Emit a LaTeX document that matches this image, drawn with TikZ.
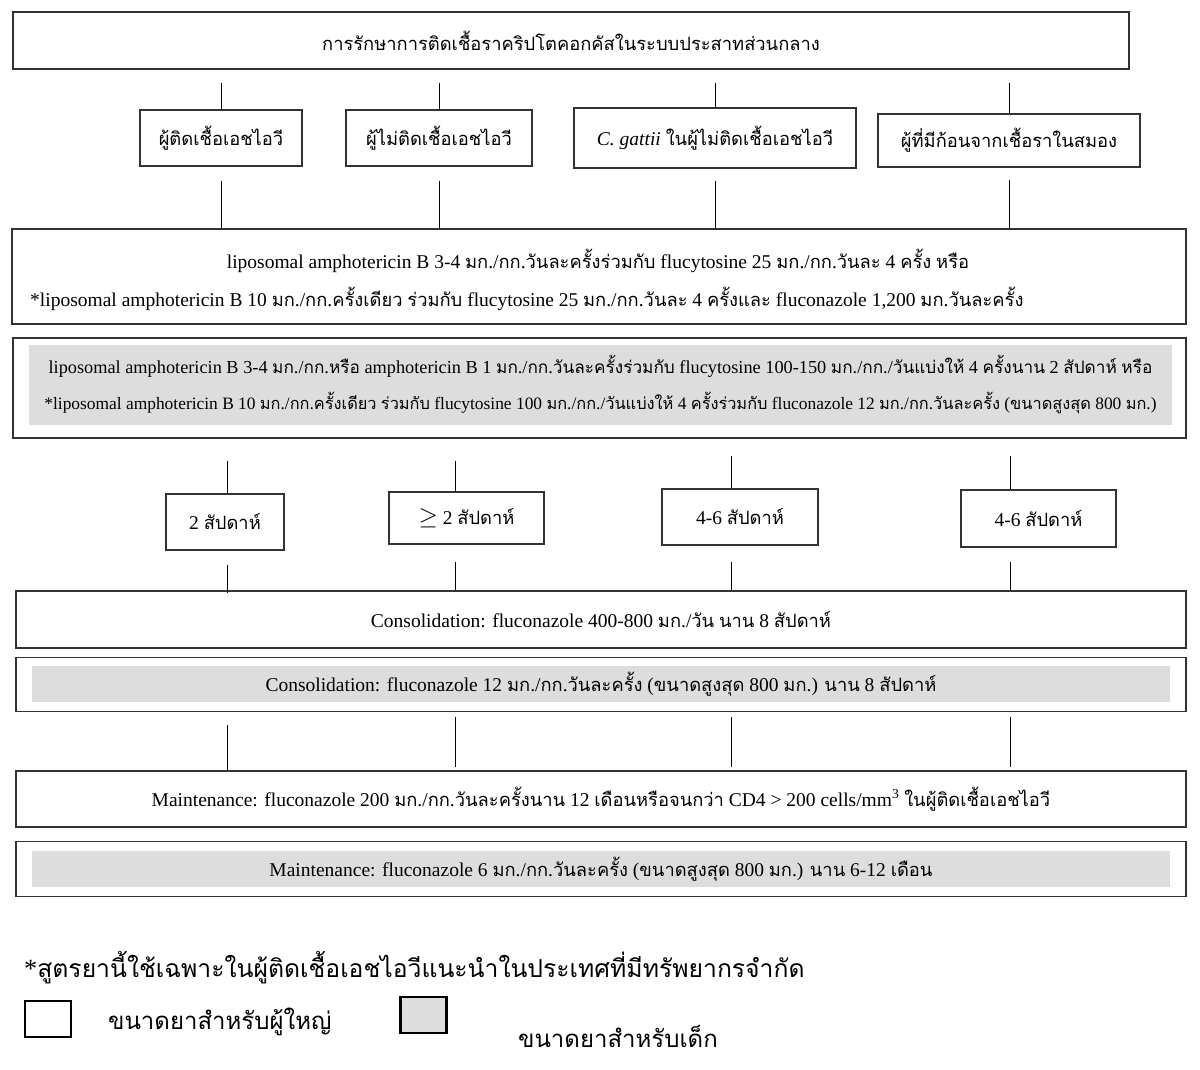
\documentclass[tikz,border=0pt]{standalone}
\usepackage{fontspec}
\setmainfont{Liberation Serif}
\newfontfamily\thaifont[Script=Thai,Scale=0.94]{Loma}
\usepackage{tikz}
\usetikzlibrary{calc,positioning}
\definecolor{kidGray}{HTML}{DDDDDD}
\definecolor{frameDark}{HTML}{333333}
% Thai letters switch to Loma, everything else stays in Liberation Serif
\XeTeXinterchartokenstate=1
\newXeTeXintercharclass\thaiclass
\newcount\thaicode
\thaicode="0E00
\loop
  \XeTeXcharclass\thaicode=\thaiclass
  \ifnum\thaicode<"0E7F \advance\thaicode by 1
\repeat
\XeTeXinterchartoks 0 \thaiclass = {\thaifont}
\XeTeXinterchartoks 4095 \thaiclass = {\thaifont}
\XeTeXinterchartoks \thaiclass 0 = {\rmfamily}
\XeTeXinterchartoks \thaiclass 4095 = {\rmfamily}
\newcommand\boxfont{\fontsize{19.5}{22}\selectfont}
\newcommand\notefont{\fontsize{25.5}{28}\selectfont}

\begin{document}
\begin{tikzpicture}[
  x=1pt,y=-1pt,
  frame/.style={draw=frameDark,line width=1.3pt,inner sep=0pt,align=center,font=\boxfont},
  kidfill/.style={fill=kidGray,draw=none,inner sep=0pt,align=center,font=\boxfont},
  txt/.style={inner sep=0pt,font=\boxfont},
  link/.style={draw=black,line width=0.9pt},
  legendbox/.style={draw=black,line width=2.4pt,minimum width=46pt,minimum height=36pt,inner sep=0pt}
]
  \useasboundingbox (0,0) rectangle (1200,1069);
  % columns of the short links
  \coordinate (c1) at (227,0);
  \coordinate (c2) at (455,0);
  \coordinate (c3) at (731,0);
  \coordinate (c4) at (1010,0);

  \node[frame,minimum width=1116,minimum height=57] (title) at (571,40.5) {การรักษาการติดเชื้อราคริปโตคอกคัสในระบบประสาทส่วนกลาง};

  \node[frame,minimum width=162,minimum height=56] (hiv) at (221,138) {ผู้ติดเชื้อเอชไอวี};
  \node[frame,minimum width=186,minimum height=56] (nonhiv) at (439,138) {ผู้ไม่ติดเชื้อเอชไอวี};
  \node[frame,minimum width=282,minimum height=60] (gattii) at (715,138) {\textit{C. gattii} ในผู้ไม่ติดเชื้อเอชไอวี};
  \node[frame,minimum width=262,minimum height=53] (mass) at (1009,140.5) {ผู้ที่มีก้อนจากเชื้อราในสมอง};

  % induction, adult dose
  \node[frame,minimum width=1174,minimum height=95] (adultInd) at (599,276.5) {};
  \node[txt] (adultIndA) at (598,261) {liposomal amphotericin B 3-4 มก./กก.วันละครั้งร่วมกับ flucytosine 25 มก./กก.วันละ 4 ครั้ง หรือ};
  \node[txt,anchor=west] (adultIndB) at (30,299) {*liposomal amphotericin B 10 มก./กก.ครั้งเดียว ร่วมกับ flucytosine 25 มก./กก.วันละ 4 ครั้งและ fluconazole 1,200 มก.วันละครั้ง};

  % induction, child dose
  \node[frame,minimum width=1173,minimum height=100] (childInd) at (599.5,388) {};
  \node[kidfill,minimum width=1143,minimum height=80,font=\fontsize{18.3}{36}\selectfont] (childIndTxt) at (600.5,385) {liposomal amphotericin B 3-4 มก./กก.หรือ amphotericin B 1 มก./กก.วันละครั้งร่วมกับ flucytosine 100-150 มก./กก./วันแบ่งให้ 4 ครั้งนาน 2 สัปดาห์ หรือ\\{\fontsize{17.4}{36}\selectfont *liposomal amphotericin B 10 มก./กก.ครั้งเดียว ร่วมกับ flucytosine 100 มก./กก./วันแบ่งให้ 4 ครั้งร่วมกับ fluconazole 12 มก./กก.วันละครั้ง (ขนาดสูงสุด 800 มก.)}};

  \node[frame,minimum width=118,minimum height=56] (wk2) at (225,522) {2 สัปดาห์};
  \node[frame,minimum width=155,minimum height=52] (wk2plus) at (466.5,518) {{\fontsize{24}{24}\selectfont$\geq$} 2 สัปดาห์};
  \node[frame,minimum width=156,minimum height=56] (wk46a) at (740,517) {4-6 สัปดาห์};
  \node[frame,minimum width=155,minimum height=57] (wk46b) at (1038.5,518.5) {4-6 สัปดาห์};

  \node[frame,minimum width=1170,minimum height=57] (adultCons) at (601,619.5) {Consolidation: fluconazole 400-800 มก./วัน นาน 8 สัปดาห์};
  \node[frame,minimum width=1170,minimum height=54,below=8pt of adultCons] (childCons) {};
  \node[kidfill,minimum width=1138,minimum height=36] (childConsTxt) at (childCons) {Consolidation: fluconazole 12 มก./กก.วันละครั้ง (ขนาดสูงสุด 800 มก.) นาน 8 สัปดาห์};

  \node[frame,minimum width=1170,minimum height=56] (adultMaint) at (601,799) {Maintenance: fluconazole 200 มก./กก.วันละครั้งนาน 12 เดือนหรือจนกว่า CD4 > 200 cells/mm\textsuperscript{3} ในผู้ติดเชื้อเอชไอวี};
  \node[frame,minimum width=1170,minimum height=55,below=13pt of adultMaint] (childMaint) {};
  \node[kidfill,minimum width=1138,minimum height=36] (childMaintTxt) at (childMaint) {Maintenance: fluconazole 6 มก./กก.วันละครั้ง (ขนาดสูงสุด 800 มก.) นาน 6-12 เดือน};

  % links
  \draw[link,shorten <=13pt] (title.south -| hiv) -- (hiv.north);
  \draw[link,shorten <=13pt] (title.south -| nonhiv) -- (nonhiv.north);
  \draw[link,shorten <=13pt] (title.south -| gattii) -- (gattii.north);
  \draw[link,shorten <=13pt] (title.south -| mass) -- (mass.north);
  \draw[link,shorten <=14pt] (hiv.south) -- (adultInd.north -| hiv);
  \draw[link,shorten <=14pt] (nonhiv.south) -- (adultInd.north -| nonhiv);
  \draw[link,shorten <=12pt] (gattii.south) -- (adultInd.north -| gattii);
  \draw[link,shorten <=12pt] (mass.south) -- (adultInd.north -| mass);

  \draw[link,shorten <=22pt] (childInd.south -| c1) -- (wk2.north -| c1);
  \draw[link,shorten <=22pt] (childInd.south -| c2) -- (wk2plus.north -| c2);
  \draw[link,shorten <=17pt] (childInd.south -| c3) -- (wk46a.north -| c3);
  \draw[link,shorten <=17pt] (childInd.south -| c4) -- (wk46b.north -| c4);
  \draw[link,shorten <=14pt] (wk2.south -| c1) -- ([yshift=-3pt]adultCons.north -| c1);
  \draw[link,shorten <=17pt] (wk2plus.south -| c2) -- (adultCons.north -| c2);
  \draw[link,shorten <=16pt] (wk46a.south -| c3) -- (adultCons.north -| c3);
  \draw[link,shorten <=14pt] (wk46b.south -| c4) -- (adultCons.north -| c4);

  \draw[link,shorten <=13pt] (childCons.south -| c1) -- (adultMaint.north -| c1);
  \draw[link,shorten <=5pt,shorten >=3pt] (childCons.south -| c2) -- (adultMaint.north -| c2);
  \draw[link,shorten <=5pt,shorten >=3pt] (childCons.south -| c3) -- (adultMaint.north -| c3);
  \draw[link,shorten <=5pt,shorten >=3pt] (childCons.south -| c4) -- (adultMaint.north -| c4);

  % footnote and legend
  \node[inner sep=0pt,anchor=west,font=\fontsize{26.3}{28}\selectfont] (note) at (24,968) {*สูตรยานี้ใช้เฉพาะในผู้ติดเชื้อเอชไอวีแนะนำในประเทศที่มีทรัพยากรจำกัด};
  \node[legendbox,fill=white] (adultKey) at (48,1019) {};
  \node[inner sep=0pt,anchor=west,font=\notefont] (adultKeyTxt) at (108,1022) {ขนาดยาสำหรับผู้ใหญ่};
  \node[legendbox,fill=kidGray] (childKey) at (423.5,1015) {};
  \node[inner sep=0pt,anchor=west,font=\notefont] (childKeyTxt) at (518,1036) {ขนาดยาสำหรับเด็ก};
\end{tikzpicture}
\end{document}
